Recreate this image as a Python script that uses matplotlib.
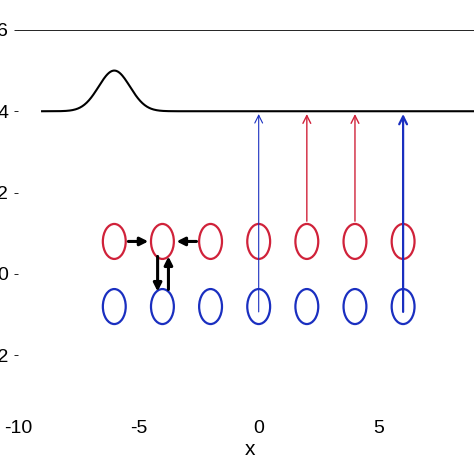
import numpy as np
import matplotlib
matplotlib.use("Agg")
import matplotlib.pyplot as plt
from matplotlib.patches import Ellipse

plt.rcParams['font.family'] = ['Liberation Sans', 'DejaVu Sans']
plt.rcParams['axes.unicode_minus'] = False

site_x = [-6, -4, -2, 0, 2, 4, 6]
red_y = 0.8
blue_y = -0.8
peak_center = -6
peak_height = 1.0
baseline = 4.0
red_arrow_x = [2, 4]
blue_arrow_x = [0, 6]
blue_arrow_lw = [0.8, 1.6]
xticks = [-10, -5, 0, 5]
yticks = [-2, 0, 2, 4, 6]

fig = plt.figure(figsize=(4.74, 4.74), dpi=100)
ax = fig.add_axes([0.038, 0.173, 0.98, 0.764])
ax.set_xlim(-9.88, 9.3)
ax.set_ylim(-2.9, 6)

red = '#d0223a'
blue = '#1a2fc0'
EW, EH = 0.95, 0.86
for x in site_x:
    ax.add_patch(Ellipse((x, red_y), EW, EH, fill=False, ec=red, lw=1.6))
    ax.add_patch(Ellipse((x, blue_y), EW, EH, fill=False, ec=blue, lw=1.6))

xs = np.linspace(-9, 9.5, 600)
ax.plot(xs, baseline + peak_height * np.exp(-(xs - peak_center) ** 2 / (2 * 0.65 ** 2)), color='black', lw=1.5)

for x in red_arrow_x:
    ax.annotate('', xy=(x, baseline), xytext=(x, red_y + EH / 2),
                arrowprops=dict(arrowstyle='->', color=red, lw=1.0, mutation_scale=14))
for x, lw in zip(blue_arrow_x, blue_arrow_lw):
    ax.annotate('', xy=(x, baseline), xytext=(x, blue_y - 0.2),
                arrowprops=dict(arrowstyle='->', color=blue, lw=lw, mutation_scale=14))

ap = dict(arrowstyle='-|>', color='black', lw=2.2, mutation_scale=12)
ax.annotate('', xy=(-4.47, red_y), xytext=(-5.53, red_y), arrowprops=ap)
ax.annotate('', xy=(-3.53, red_y), xytext=(-2.47, red_y), arrowprops=ap)
ax.annotate('', xy=(-4.2, blue_y + 0.3), xytext=(-4.2, red_y - 0.3), arrowprops=ap)
ax.annotate('', xy=(-3.75, red_y - 0.3), xytext=(-3.75, blue_y + 0.35), arrowprops=ap)

ax.axhline(6, color='black', lw=0.6)
for s in ['left', 'right', 'bottom', 'top']:
    ax.spines[s].set_visible(False)
ax.set_xticks(xticks)
ax.set_yticks(yticks)
ax.tick_params(axis='x', length=0, pad=20, labelsize=14)
ax.tick_params(axis='y', length=3, width=0.6, pad=4, labelsize=14)
ax.set_xlabel('x', fontsize=15, labelpad=2)

fig.savefig('out.png', dpi=100)
